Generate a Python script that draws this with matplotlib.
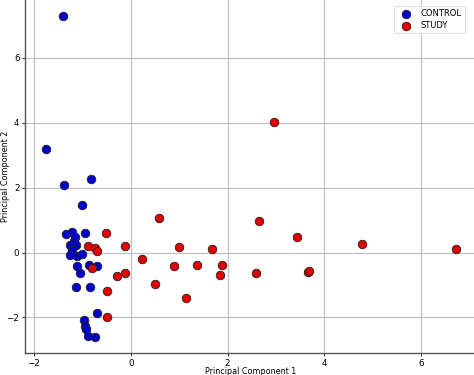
import numpy as np
import matplotlib
matplotlib.use("Agg")
import matplotlib.pyplot as plt

# PCA scores
control_pc1 = [-1.39, -1.76, -1.37, -0.83, -1.00, -1.33, -1.21, -1.15, -0.95, -1.17,
               -1.25, -1.125, -1.22, -1.26, -1.11, -1.00, -1.10, -1.04, -0.86, -0.69,
               -1.14, -0.85, -0.70, -0.97, -0.94, -0.92, -0.89, -0.74]
control_pc2 = [7.30, 3.20, 2.09, 2.28, 1.47, 0.56, 0.63, 0.47, 0.61, 0.35,
               0.22, 0.22, 0.07, -0.07, -0.11, -0.03, -0.40, -0.63, -0.37, -0.42,
               -1.06, -1.06, -1.87, -2.09, -2.25, -2.36, -2.56, -2.60]

study_pc1 = [-0.51, -0.875, -0.74, -0.69, -0.79, -0.125, 0.24, -0.28, -0.11, 0.51,
             -0.49, -0.49, 0.58, 1.00, 1.68, 0.90, 1.37, 1.88, 1.85, 1.14,
             2.65, 3.44, 4.78, 6.71, 2.59, 3.65, 3.69, 2.96]
study_pc2 = [0.61, 0.19, 0.14, 0.04, -0.47, 0.19, -0.21, -0.71, -0.63, -0.97,
             -1.18, -1.98, 1.06, 0.16, 0.12, -0.40, -0.38, -0.38, -0.69, -1.40,
             0.96, 0.49, 0.28, 0.10, -0.63, -0.61, -0.56, 4.04]

fig = plt.figure(figsize=(4.74, 3.75), dpi=100)
ax = fig.add_axes([25/474, 22/375, 0.952, 0.942])

ax.scatter(control_pc1, control_pc2, s=38, c="#0000cc", edgecolors="#222222",
           linewidths=0.6, label="CONTROL", zorder=3)
ax.scatter(study_pc1, study_pc2, s=38, c="#e00000", edgecolors="#222222",
           linewidths=0.6, label="STUDY", zorder=3)

ax.set_xticks([-2, 0, 2, 4, 6])
ax.set_yticks([-2, 0, 2, 4, 6])
ax.tick_params(labelsize=6.3, length=2.5, width=0.6, pad=1.5)
ax.grid(True, color="#c0c0c0", linewidth=0.9)
ax.set_axisbelow(True)
for side in ["left", "bottom"]:
    ax.spines[side].set_color("#555555")
    ax.spines[side].set_linewidth(1.0)
ax.spines["top"].set_visible(False)
ax.spines["right"].set_visible(False)

# labels squeezed into the thin margins, as in the reference
ax.set_xlabel("Principal Component 1", fontsize=5.8)
ax.xaxis.set_label_coords(0.5, -0.04)
ax.set_ylabel("Principal Component 2", fontsize=5.8)
ax.yaxis.set_label_coords(-0.034, 0.5)

leg = ax.legend(loc="upper right", bbox_to_anchor=(0.99, 0.995),
                bbox_transform=fig.transFigure, fontsize=6, markerscale=1.0,
                handletextpad=0.8, borderpad=0.4, labelspacing=0.3)
leg.get_frame().set_linewidth(0.6)

fig.savefig("out.png", dpi=100)
